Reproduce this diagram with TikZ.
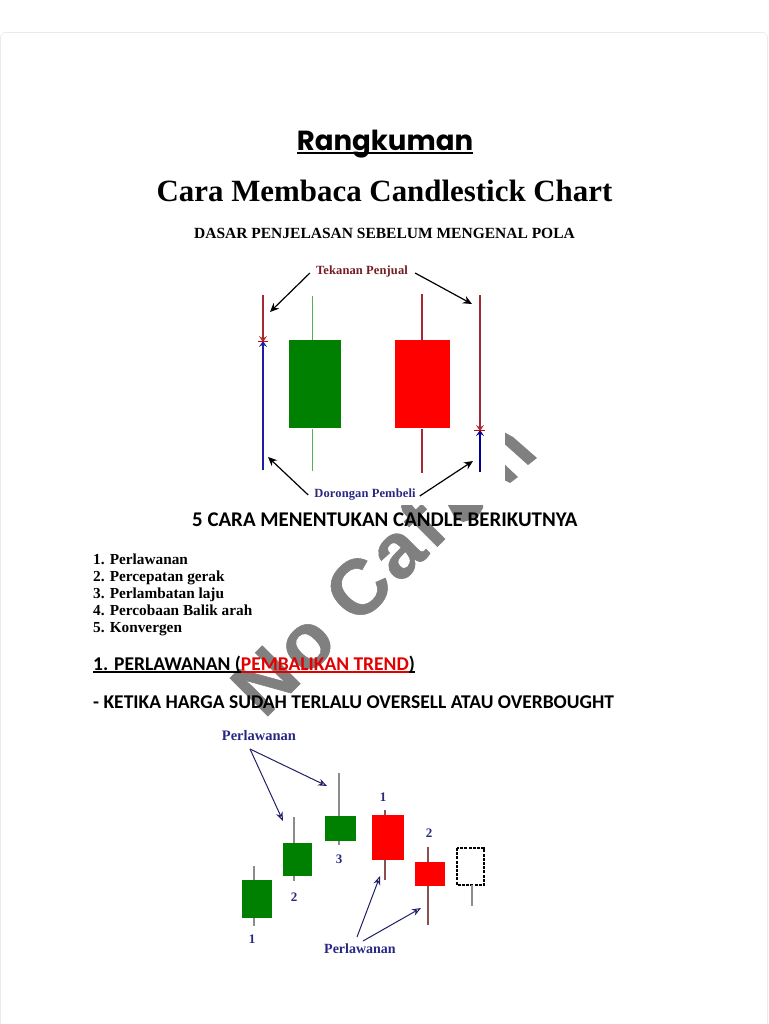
\documentclass[tikz,border=0pt]{standalone}
\usepackage{fontspec}
\usetikzlibrary{arrows.meta}
\setmainfont{Liberation Serif}
\newfontfamily\sansf{Carlito}
\newfontfamily\wmf[FakeBold=0.7,LetterSpace=4]{Liberation Sans}
\newfontfamily\titlef{Poppins}
\definecolor{cgreen}{RGB}{0,128,0}
\definecolor{cred}{RGB}{255,0,0}
\definecolor{wick}{RGB}{165,40,50}
\definecolor{navy}{RGB}{40,40,130}
\definecolor{wmgray}{RGB}{128,128,128}
\definecolor{gwick}{RGB}{140,140,140}
\definecolor{rwick}{RGB}{140,80,80}
\newcommand{\thickul}[3]{\setbox0\hbox{#3}\rlap{\raisebox{-#1}{\rule{\wd0}{#2}}}\box0}
\tikzset{
  x=1pt,y=-1pt,
  hd/.style={inner sep=0pt,anchor=base west,font=\fontsize{19.5}{19.5}\selectfont\sansf\bfseries},
  lab/.style={inner sep=0pt,font=\fontsize{12.5}{12.5}\selectfont\bfseries},
  lab2/.style={inner sep=0pt,font=\fontsize{14}{14}\selectfont\bfseries,text=navy},
  body/.style={draw=none,inner sep=0pt},
  tip/.style={-{Stealth[length=6pt,width=8pt,inset=2.5pt]}},
  arr/.style={-{Stealth[length=9pt,width=8pt,inset=3pt]},line width=1.2pt},
  thinarr/.style={-{Stealth[length=9pt,width=7pt,open]},line width=1pt,draw=navy!80!black},
  wmfrag/.style={fill=wmgray,draw=none}
}
\begin{document}
\begin{tikzpicture}
\useasboundingbox (0,0) rectangle (768,1024);
\fill[white] (0,0) rectangle (768,1024);
\draw[draw=black!8,line width=.6pt] (0.5,1024) -- (0.5,36) -- (4,32.5) -- (764,32.5) -- (767.5,36) -- (767.5,1024);
% watermark, behind the page's text and pictures
\node[inner sep=0pt,anchor=base west,rotate=45,text=wmgray,font=\fontsize{78}{78}\selectfont\wmf\bfseries] (wm) at (264,720) {No Caf};
\fill[wmfrag] (445,500) -- (483,500) -- (483,508) -- (477,518) -- (463,522) -- (455,518) -- cycle;
\fill[wmfrag] (500,430) -- (513,437) -- (537,458) -- (528,465) -- (500,440) -- cycle;
\fill[wmfrag] (500,460) -- (518,477) -- (510,483) -- (500,478) -- cycle;
\fill[white] (245,262) rectangle (505,505);
% titles
\node[inner sep=0pt,anchor=base] (t1) at (385,151) {\fontsize{27.6}{27.6}\selectfont\titlef\bfseries\thickul{3.5pt}{2.5pt}{Rangkuman}};
\node[inner sep=0pt,anchor=base] (t2) at (384.5,202) {\fontsize{30.9}{30.9}\selectfont\bfseries Cara Membaca Candlestick Chart};
\node[inner sep=0pt,anchor=base] (t3) at (384.5,238) {\fontsize{15.5}{15.5}\selectfont\bfseries DASAR PENJELASAN SEBELUM MENGENAL POLA};
% chart 1
\node[lab,text=wick!70!black] (tp) at (362,271) {\addfontfeature{LetterSpace=1}Tekanan Penjual};
\node[lab,text=navy] (dp) at (365,495) {\addfontfeature{LetterSpace=1}Dorongan Pembeli};
\node[body,fill=cgreen,minimum width=52.5pt,minimum height=88.5pt] (g1) at (314.8,384.2) {};
\node[body,fill=cred,minimum width=54.5pt,minimum height=88.5pt] (r1) at (422.5,384.2) {};
\coordinate (g1t) at (312.5,296); \coordinate (g1b) at (312.5,471);
\coordinate (r1t) at (421.5,294); \coordinate (r1b) at (421.5,473);
\draw[line width=1.2pt,draw=cgreen!65] (g1t) -- (g1t|-g1.north) (g1b) -- (g1b|-g1.south);
\draw[line width=2pt,draw=wick] (r1t) -- (r1t|-r1.north) (r1b) -- (r1b|-r1.south);
\coordinate (la) at (263,295); \coordinate (lm) at (263,342); \coordinate (lm2) at (263,341); \coordinate (lb) at (263,470);
\coordinate (ra) at (480,295); \coordinate (rm) at (480,431); \coordinate (rm2) at (480,430); \coordinate (rb) at (480,472);
\draw[tip,line width=2pt,draw=wick] (la) -- (lm);
\draw[tip,line width=2pt,draw=navy!75!blue] (lb) -- (lm2);
\draw[tip,line width=2pt,draw=wick] (ra) -- (rm);
\draw[tip,line width=2.4pt,draw=blue!60!black] (rb) -- (rm2);
\draw[red!80!black,line width=.8pt] (258,341) -- (268,341) (474,430) -- (485,430);
\coordinate (a1) at (270,312); \coordinate (a2) at (472,304); \coordinate (a3) at (268,457); \coordinate (a4) at (473,461);
\draw[arr] (tp.west)++(-6,2) -- (a1);
\draw[arr] (tp.east)++(7,2) -- (a2);
\draw[arr] (dp.west)++(-6,0) -- (a3);
\draw[arr] (dp.east)++(4,1) -- (a4);
% headings
\node[hd,font=\fontsize{20.9}{20.9}\selectfont\sansf\bfseries] (h1) at (192,526) {5 CARA MENENTUKAN CANDLE BERIKUTNYA};
\node[inner sep=0pt,anchor=north west,align=left,font=\fontsize{15.3}{17}\selectfont\bfseries] (list) at (93,553.5)
 {1. Perlawanan\\2. Percepatan gerak\\3. Perlambatan laju\\4. Percobaan Balik arah\\5. Konvergen};
\node[hd] (h2) at (93,670) {\thickul{2.5pt}{2pt}{1. PERLAWANAN (}\textcolor{red!90!black}{\thickul{2.5pt}{2pt}{PEMBALIKAN TREND}}\thickul{2.5pt}{2pt}{)}};
\node[hd] (h3) at (93,708) {- KETIKA HARGA SUDAH TERLALU OVERSELL ATAU OVERBOUGHT};
% chart 2
\node[lab2,font=\fontsize{14.5}{14.5}\selectfont\bfseries] (p1) at (259,736) {Perlawanan};
\node[lab2] (p2) at (360,949) {Perlawanan};
\foreach \n/\col/\wc/\xa/\ya/\xb/\yb/\wx/\wt/\wb in {
 c1/cgreen/gwick/242/880/272/918/254/866/926,
 c2/cgreen/gwick/283/843/312/876/294/817/881,
 c3/cgreen/gwick/325/816/356/841/339/773/845,
 c4/cred/rwick/372/815/404/860/385/810/880,
 c5/cred/rwick/415/862/445/886/428/847/925}{
  \draw[line width=2pt,draw=\wc] (\wx,\wt) -- (\wx,\wb);
  \node[body,fill=\col,minimum width=\xb pt-\xa pt,minimum height=\yb pt-\ya pt] (\n) at ({(\xa+\xb)/2},{(\ya+\yb)/2}) {};
}
\draw[line width=1.2pt,draw=black,dash pattern=on 3pt off 1.2pt] (457,848) rectangle (484,885);
\draw[line width=2pt,draw=gwick] (471.5,885) -- (471.5,906);
\foreach \n/\t/\cx/\cy in {n1/1/252/939,n2/2/294/897,n3/3/339/859,n4/1/383/797,n5/2/429/833}
  \node[lab2,font=\fontsize{13}{13}\selectfont\bfseries] (\n) at (\cx,\cy) {\t};
\coordinate (q1) at (250,749); \coordinate (q2) at (283,821); \coordinate (q3) at (327,786);
\coordinate (q4) at (380,876); \coordinate (q5) at (421,908);
\coordinate (s1) at (357,937); \coordinate (s2) at (363,941);
\draw[thinarr] (q1) -- (q2);
\draw[thinarr] (q1) -- (q3);
\draw[thinarr] (s1) -- (q4);
\draw[thinarr] (s2) -- (q5);
\end{tikzpicture}
\end{document}
